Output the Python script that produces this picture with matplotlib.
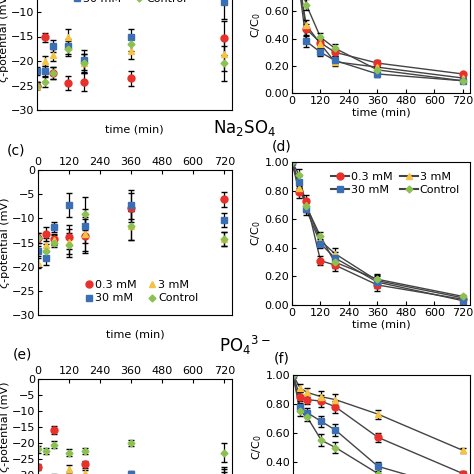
import numpy as np
import matplotlib
matplotlib.use("Agg")
import matplotlib.pyplot as plt

# Temps d'échantillonnage (min)
t = [0, 30, 60, 120, 180, 360, 720]
series = ["0.3 mM", "3 mM", "30 mM", "Control"]
ordre_legende = ["0.3 mM", "30 mM", "3 mM", "Control"]  # ligne par ligne avec ncol=2

# (a) potentiel zeta - premier sel
za = {"0.3 mM": [-25, -15.2, -22.5, -24.5, -24.2, -23.5, -15.3],
      "3 mM": [-25, -20, -18.8, -15, -20.5, -18, -18.5],
      "30 mM": [-22, -22, -17, -17, -19.8, -15, -8],
      "Control": [-25, -24.3, -22.5, -17.5, -20.5, -16.5, -20.5]}
za_err = [0.8, 1.0, 1.2, 1.5, 2.0, 1.5, 3.5]
# (b) C/C0
cb = {"0.3 mM": [1, 0.80, 0.47, 0.37, 0.30, 0.22, 0.14],
      "3 mM": [1, 0.82, 0.50, 0.36, 0.23, 0.19, 0.11],
      "30 mM": [1, 0.78, 0.38, 0.30, 0.24, 0.14, 0.09],
      "Control": [1, 0.85, 0.65, 0.41, 0.33, 0.17, 0.09]}
cb_err = [0, 0.03, 0.04, 0.03, 0.03, 0.02, 0.01]
# (c) potentiel zeta - Na2SO4
zc = {"0.3 mM": [-14, -13.2, -14.3, -13.8, -13.7, -7.8, -6.1],
      "3 mM": [-19.3, -15.5, -14.5, -14.8, -13.2, -11.5, -14.3],
      "30 mM": [-16.8, -18.2, -11.8, -7.2, -11.5, -7.2, -10.3],
      "Control": [-14, -16.8, -15, -15.5, -9, -11.5, -14.3]}
zc_err = [1.0, 1.5, 1.0, 2.5, 3.5, 3.0, 1.5]
# (d) C/C0 - Na2SO4
cd = {"0.3 mM": [1, 0.79, 0.73, 0.31, 0.28, 0.14, 0.04],
      "3 mM": [1, 0.82, 0.70, 0.45, 0.36, 0.17, 0.05],
      "30 mM": [1, 0.86, 0.67, 0.43, 0.33, 0.16, 0.03],
      "Control": [1, 0.91, 0.69, 0.48, 0.30, 0.18, 0.06]}
cd_err = [0, 0.04, 0.04, 0.03, 0.04, 0.04, 0.01]
# (e) potentiel zeta - PO4
ze = {"0.3 mM": [-27.5, -31, -16, -31, -26.7, -32, -31],
      "3 mM": [-31, -32, -31, -28, -29.5, -32, -30.5],
      "30 mM": [-33, -33, -32, -31, -31, -29.8, -32],
      "Control": [-22, -22.5, -20.5, -23, -22.5, -20, -23]}
ze_err = [1.0, 0.8, 1.2, 1.2, 1.0, 1.0, 3.0]
# (f) C/C0 - PO4
cf = {"0.3 mM": [1, 0.85, 0.83, 0.82, 0.78, 0.57, 0.32],
      "3 mM": [1, 0.91, 0.88, 0.85, 0.83, 0.73, 0.48],
      "30 mM": [1, 0.78, 0.74, 0.68, 0.62, 0.37, 0.20],
      "Control": [1, 0.75, 0.71, 0.55, 0.50, 0.32, 0.15]}
cf_err = [0, 0.03, 0.03, 0.04, 0.04, 0.03, 0.02]

couleurs = {"0.3 mM": "#e8312a", "3 mM": "#f5c242", "30 mM": "#3a6fb5", "Control": "#8cc152"}
marqueurs = {"0.3 mM": "o", "3 mM": "^", "30 mM": "s", "Control": "D"}
msize = {"0.3 mM": 5, "3 mM": 4.5, "30 mM": 5, "Control": 3.5}

W = 474
plt.rcParams["font.family"] = "DejaVu Sans"
plt.rcParams["axes.linewidth"] = 0.8
fig = plt.figure(figsize=(4.74, 4.74), dpi=100)


def ax_px(l, tp, r, b):
    return fig.add_axes([l / W, 1 - b / W, (r - l) / W, (b - tp) / W])


def zeta(ax, data, err, leg_xy):
    for s in series:
        ax.errorbar(t, data[s], yerr=err, fmt=marqueurs[s], color=couleurs[s], ms=msize[s],
                    ecolor="black", elinewidth=0.9, capsize=2.5)
    ax.set_xlim(0, 750)
    ax.set_ylim(-30, 0)
    ax.set_yticks(range(-30, 1, 5))
    ax.set_xticks(range(0, 721, 120))
    ax.xaxis.tick_top()
    ax.tick_params(labelsize=8, length=3, direction="in", pad=2)
    ax.set_ylabel("ζ-potential (mV)", fontsize=8, labelpad=1)
    ax.text(0.5, -0.1, "time (min)", transform=ax.transAxes, ha="center", va="top", fontsize=8)
    hs = [plt.Line2D([], [], ls="", marker=marqueurs[s], color=couleurs[s], ms=msize[s])
          for s in ordre_legende]
    ax.legend(hs, ordre_legende, ncol=2, loc="center", bbox_to_anchor=leg_xy, frameon=False,
              fontsize=8, handletextpad=0.1, columnspacing=0.8, labelspacing=0.3, handlelength=1)


def cc0(ax, data, err, legende=False):
    for s in series:
        ax.plot(t, data[s], "-", color="#444444", lw=1, zorder=1)
        ax.errorbar(t, data[s], yerr=err, fmt=marqueurs[s], color=couleurs[s], ms=msize[s],
                    ecolor="black", elinewidth=0.9, capsize=2.5, zorder=2)
    ax.set_xlim(0, 750)
    ax.set_ylim(0, 1)
    ax.set_xticks(range(0, 721, 120))
    ax.set_yticks(np.arange(0, 1.01, 0.2))
    ax.set_yticklabels(["%.2f" % v for v in np.arange(0, 1.01, 0.2)])
    ax.tick_params(labelsize=8, length=3, direction="in", pad=2)
    ax.set_ylabel("C/C$_0$", fontsize=8, labelpad=1)
    ax.set_xlabel("time (min)", fontsize=8, labelpad=1)
    if legende:
        hs = [plt.Line2D([], [], color="#444444", marker=marqueurs[s], mfc=couleurs[s],
                         mec=couleurs[s], ms=msize[s]) for s in ordre_legende]
        ax.legend(hs, ordre_legende, ncol=2, loc="upper right", frameon=False, fontsize=8,
                  handletextpad=0.2, columnspacing=0.6, labelspacing=0.3, handlelength=1.6)


zeta(ax_px(37, -37, 232, 110), za, za_err, (0.47, 0.8))
cc0(ax_px(292, -43, 470, 93), cb, cb_err)
zeta(ax_px(38, 170, 232, 315), zc, zc_err, (0.53, 0.16))
cc0(ax_px(292, 162, 470, 305), cd, cd_err, legende=True)
zeta(ax_px(38, 379, 232, 475), ze, ze_err, (0.5, -2))
cc0(ax_px(293, 375, 470, 520), cf, cf_err)

fig.text(245 / W, 1 - 128 / W, "Na$_2$SO$_4$", fontsize=12, ha="center", va="center")
fig.text(245 / W, 1 - 345 / W, "PO$_4$$^{3-}$", fontsize=12, ha="center", va="center")
for lab, x, y in [("(c)", 16, 150), ("(d)", 282, 146), ("(e)", 22, 355), ("(f)", 282, 358)]:
    fig.text(x / W, 1 - y / W, lab, fontsize=10, ha="center", va="center")

fig.savefig("out.png", dpi=100)
